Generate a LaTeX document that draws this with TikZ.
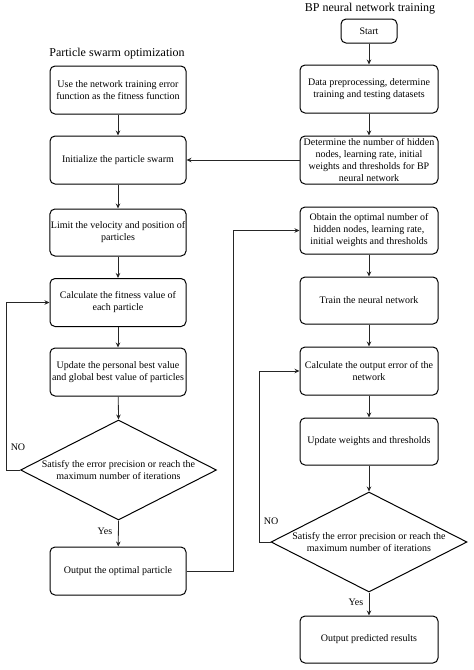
\documentclass[tikz,border=0pt]{standalone}
\usepackage{fontspec}
\setmainfont{Liberation Serif}
\usetikzlibrary{shapes.geometric,arrows.meta}
\begin{document}
\begin{tikzpicture}[x=1pt,y=-1pt,
  box/.style={draw=black,line width=1pt,rounded corners=5pt,align=center,font=\fontsize{10}{12}\selectfont,inner sep=1pt},
  lbox/.style={box,minimum width=136pt,minimum height=48pt},
  rbox/.style={box,minimum width=138pt,minimum height=48pt},
  decision/.style={draw=black,line width=1pt,shape=diamond,inner sep=0pt,minimum width=196pt,minimum height=100pt},
  dtext/.style={align=center,font=\fontsize{10}{12}\selectfont,inner sep=0pt},
  arr/.style={draw=black!85,line width=0.8pt,-{Stealth[length=5pt,width=4.5pt]}},
  lab/.style={font=\fontsize{10}{12}\selectfont,inner sep=0pt},
  ttl/.style={font=\fontsize{12}{14}\selectfont,inner sep=0pt}]
\useasboundingbox (0,0) rectangle (474,670);
% titles
\node[ttl] (t1) at (117,54) {Particle swarm optimization};
\node[ttl] (t2) at (370,9) {BP neural network training};
% left column
\node[lbox] (a1) at (118,90) {Use the network training error\\function as the fitness function};
\node[lbox] (a2) at (118,160) {Initialize the particle swarm};
\node[lbox,minimum height=47pt] (a3) at (118,232.5) {Limit the velocity and position of\\particles};
\node[lbox] (a4) at (118,302.5) {Calculate the fitness value of\\each particle};
\node[lbox] (a5) at (118,372) {Update the personal best value\\and global best value of particles};
\node[decision] (d1) at (118.5,470) {};
\node[dtext] (d1t) at (d1.center) {Satisfy the error precision or reach the\\maximum number of iterations};
\node[lbox] (a6) at (118,571) {Output the optimal particle};
% right column
\node[box,minimum width=56pt,minimum height=24pt] (b0) at (369,31) {Start};
\node[rbox] (b1) at (369,89) {Data preprocessing, determine\\training and testing datasets};
\node[rbox,inner sep=0pt] (b2) at (369,160) {Determine the number of hidden\\nodes, learning rate, initial\\weights and thresholds for BP\\neural network};
\node[rbox,minimum height=47pt] (b3) at (369,230.5) {Obtain the optimal number of\\hidden nodes, learning rate,\\initial weights and thresholds};
\node[rbox,minimum height=47pt] (b4) at (369,300.5) {Train the neural network};
\node[rbox] (b5) at (369,371) {Calculate the output error of the\\network};
\node[rbox,minimum height=47pt] (b6) at (369,441.5) {Update weights and thresholds};
\node[decision] (d2) at (369,542) {};
\node[dtext] (d2t) at (d2.center) {Satisfy the error precision or reach the\\maximum number of iterations};
\node[rbox,minimum height=47pt] (b7) at (369,639.5) {Output predicted results};
% left arrows
\draw[arr] (a1) -- (a2);
\draw[arr] (a2) -- (a3);
\draw[arr] (a3) -- (a4);
\draw[arr] (a4) -- (a5);
\draw[arr] (a5) -- (d1.north);
\draw[arr] (d1.south) -- (a6);
\coordinate (l1) at (6,470);
\draw[arr] (d1.west) -- (l1) |- (a4.west);
\node[lab] (no1) at (18,447) {NO};
\node[lab] (yes1) at (105,531) {Yes};
% right arrows
\draw[arr] (b0) -- (b1);
\draw[arr] (b1) -- (b2);
\draw[arr] (b2.west) -- (a2.east);
\draw[arr] (b3) -- (b4);
\draw[arr] (b4) -- (b5);
\draw[arr] (b5) -- (b6);
\draw[arr] (b6) -- (d2.north);
\draw[arr] (d2.south) -- (b7);
\coordinate (r1) at (259,542);
\draw[arr] (d2.west) -- (r1) |- (b5.west);
\node[lab] (no2) at (271,521) {NO};
\node[lab] (yes2) at (356,602) {Yes};
% cross connector
\coordinate (j1) at (233,571);
\draw[arr] (a6.east) -- (j1) |- (b3.west);
\end{tikzpicture}
\end{document}
